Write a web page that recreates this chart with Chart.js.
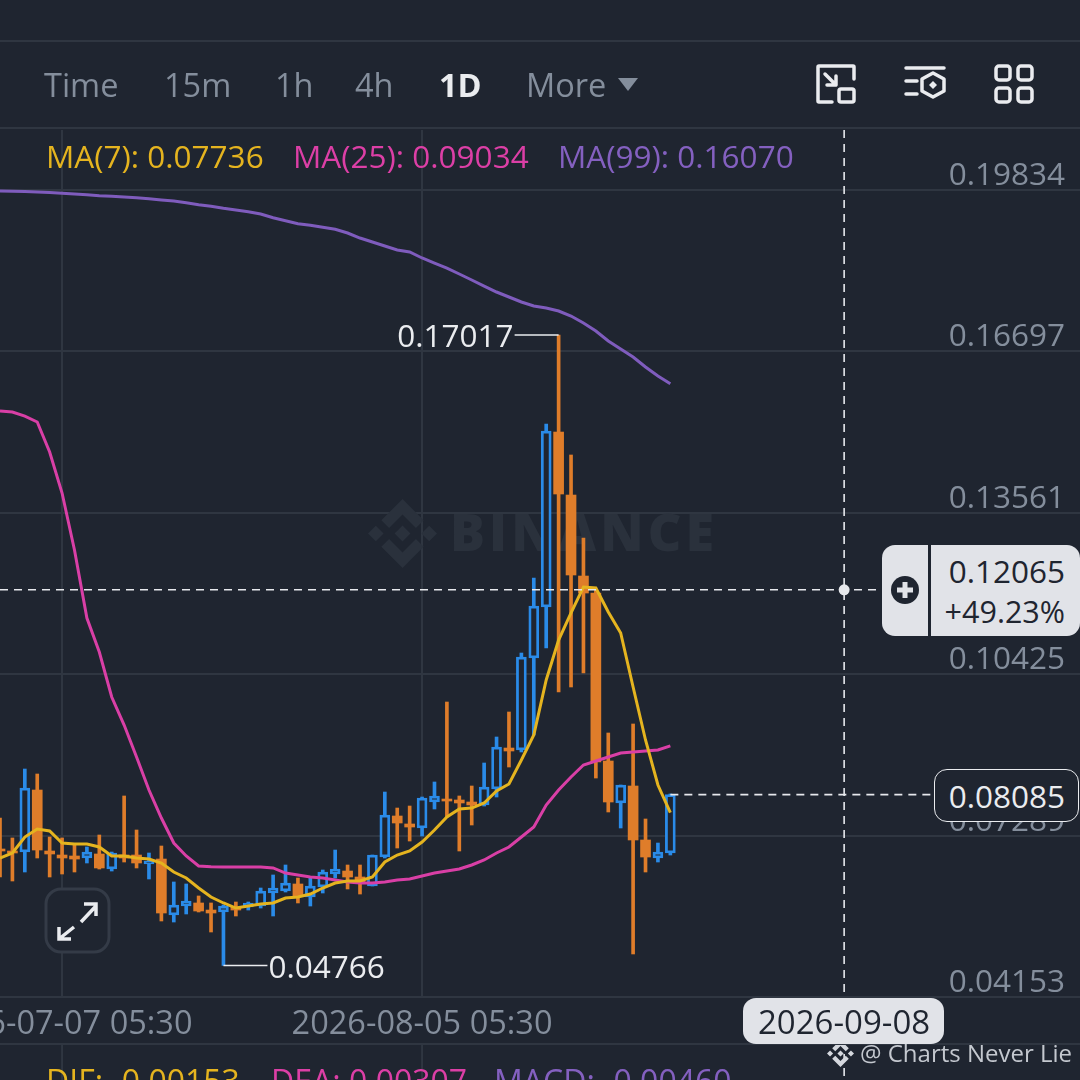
<!DOCTYPE html>
<html>
<head>
<meta charset="utf-8">
<script src="https://cdn.jsdelivr.net/npm/chart.js@4"></script>
<style>
  html, body { margin: 0; padding: 0; width: 1080px; height: 1080px; overflow: hidden; background: #1f2530; }
  body { position: relative; font-family: "Open Sans", sans-serif; }
  canvas { position: absolute; left: 0; top: 0; }
  .t { position: absolute; white-space: nowrap; line-height: 1; font-size: 31.5px; }
  .tool { font-size: 32.5px; top: 69px; color: #848e9c; }
  .line { position: absolute; left: 0; width: 1080px; height: 2px; background: #2f3641; }
  .pill { position: absolute; background: #e1e3e8; border-radius: 13px; }
  svg { position: absolute; overflow: visible; }
</style>
</head>
<body>
<canvas id="kline" width="1080" height="1080"></canvas>

<div class="line" style="top:40px"></div>
<div class="line" style="top:127px"></div>
<div class="line" style="top:1043px"></div>

<span class="t tool" style="left:44px">Time</span>
<span class="t tool" style="left:164px">15m</span>
<span class="t tool" style="left:275px">1h</span>
<span class="t tool" style="left:355px">4h</span>
<span class="t tool" style="left:439px;color:#eaecef;font-weight:700">1D</span>
<span class="t tool" style="left:526px">More</span>
<svg style="left:0;top:0" width="1080" height="130">
  <path d="M618 78h20l-10 13z" fill="#848e9c"/>
  <g fill="none" stroke="#eaecef" stroke-width="3.5" stroke-linecap="round" stroke-linejoin="round">
    <path d="M832 102h-13a1 1 0 0 1-1-1V67a1 1 0 0 1 1-1h34a1 1 0 0 1 1 1v12"/>
    <path d="M825 74l11 11M836 76v9h-9"/>
    <rect x="839" y="89" width="15" height="13" rx="2"/>
    <path d="M906 68h38M906 81h11M906 94h11"/>
    <path d="M933 73l11 6v12l-11 6l-11-6V79z"/>
    <rect x="996" y="66" width="14" height="14" rx="3"/><rect x="1018" y="66" width="14" height="14" rx="3"/>
    <rect x="996" y="88" width="14" height="14" rx="3"/><rect x="1018" y="88" width="14" height="14" rx="3"/>
  </g>
  <path d="M933 81l4 4-4 4-4-4z" fill="#eaecef"/>
</svg>

<span class="t" style="left:46px;top:140px;color:#e5b41f">MA(7): 0.07736</span>
<span class="t" style="left:293px;top:140px;color:#dc3fa6">MA(25): 0.09034</span>
<span class="t" style="left:558px;top:140px;color:#8460c0">MA(99): 0.16070</span>

<svg style="left:0;top:880px" width="120" height="80">
  <rect x="46" y="9" width="63" height="63" rx="15" fill="#1f2530" stroke="#343b47" stroke-width="3"/>
  <g fill="none" stroke="#eaecef" stroke-width="3.5">
    <path d="M81 42l15-16M84 24h12v12M74 47l-15 12M59 47v12h12"/>
  </g>
</svg>

<div class="pill" style="left:882px;top:545px;width:198px;height:91px"></div>
<div style="position:absolute;left:928px;top:545px;width:3px;height:91px;background:#1f2530"></div>
<svg style="left:890px;top:575px" width="30" height="30">
  <circle cx="15" cy="15" r="14" fill="#1f2530"/>
  <path d="M15 7v16M7 15h16" stroke="#e1e3e8" stroke-width="5"/>
</svg>
<span class="t" style="right:15px;top:555px;color:#1f2530">0.12065</span>
<span class="t" style="right:15px;top:596px;font-size:30.5px;color:#1f2530">+49.23%</span>

<div style="position:absolute;left:934px;top:769px;width:143px;height:51px;border:1.5px solid #eaecef;border-radius:13px;background:#1f2530"></div>
<span class="t" style="right:15px;top:780px;color:#eaecef">0.08085</span>

<div class="pill" style="left:743px;top:998px;width:201px;height:46px"></div>
<span class="t" style="left:758px;top:1005px;font-size:33px;color:#1f2530">2026-09-08</span>
<span class="t" style="left:860px;top:1041px;font-size:24px;color:#c4c8cf">@ Charts Never Lie</span>

<span class="t" style="left:46px;top:1065px;font-size:32px;color:#e5b41f">DIF: -0.00153</span>
<span class="t" style="left:271px;top:1065px;font-size:32px;color:#dc3fa6">DEA: 0.00307</span>
<span class="t" style="left:494px;top:1065px;font-size:32px;color:#8460c0">MACD: -0.00460</span>

<script>
const categories = [
  "2026-07-02","2026-07-03","2026-07-04","2026-07-05","2026-07-06","2026-07-07","2026-07-08","2026-07-09","2026-07-10","2026-07-11",
  "2026-07-12","2026-07-13","2026-07-14","2026-07-15","2026-07-16","2026-07-17","2026-07-18","2026-07-19","2026-07-20","2026-07-21",
  "2026-07-22","2026-07-23","2026-07-24","2026-07-25","2026-07-26","2026-07-27","2026-07-28","2026-07-29","2026-07-30","2026-07-31",
  "2026-08-01","2026-08-02","2026-08-03","2026-08-04","2026-08-05","2026-08-06","2026-08-07","2026-08-08","2026-08-09","2026-08-10",
  "2026-08-11","2026-08-12","2026-08-13","2026-08-14","2026-08-15","2026-08-16","2026-08-17","2026-08-18","2026-08-19","2026-08-20",
  "2026-08-21","2026-08-22","2026-08-23","2026-08-24","2026-08-25","2026-08-26","2026-08-27","2026-08-28","2026-08-29","2026-08-30",
  "2026-08-31","2026-09-01","2026-09-02","2026-09-03","2026-09-04","2026-09-05","2026-09-06","2026-09-07","2026-09-08","2026-09-09",
  "2026-09-10","2026-09-11","2026-09-12","2026-09-13","2026-09-14","2026-09-15","2026-09-16","2026-09-17","2026-09-18","2026-09-19",
  "2026-09-20","2026-09-21","2026-09-22","2026-09-23","2026-09-24","2026-09-25","2026-09-26","2026-09-27"
];
const xTickDates = ["2026-07-07", "2026-08-05"];
const priceTicks = [0.19834, 0.16697, 0.13561, 0.10425, 0.07289, 0.04153];

const opens = [
  0.07029,0.06990,0.06970,0.08175,0.06990,0.06912,0.06893,0.06854,0.06932,0.06640,
  0.06912,0.06912,0.06737,0.06834,0.05746,0.05921,0.05980,0.05843,0.05805,0.05902,
  0.05902,0.05921,0.06174,0.06213,0.06349,0.06096,0.06290,0.06543,0.06601,0.06485,
  0.06310,0.06873,0.07670,0.07515,0.07437,0.07942,0.08000,0.07981,0.07942,0.07884,
  0.08195,0.08991,0.08952,0.10740,0.11731,0.15131,0.13907,0.12333,0.12003,0.08739,
  0.07923,0.08253,0.07204,0.06854,0.06951
];
const highs = [
  0.07631,0.07243,0.08583,0.08486,0.07262,0.07243,0.07107,0.07068,0.07301,0.06970,
  0.08059,0.07398,0.06951,0.07087,0.06388,0.06349,0.06116,0.05980,0.05941,0.05999,
  0.05999,0.06271,0.06524,0.06718,0.06465,0.06465,0.06621,0.07009,0.06718,0.06718,
  0.06912,0.08136,0.07825,0.07864,0.08039,0.08331,0.09885,0.08059,0.08253,0.08700,
  0.09205,0.09691,0.10837,0.12295,0.15287,0.17017,0.14685,0.13072,0.12061,0.09283,
  0.08272,0.09458,0.07612,0.07145,0.08098
];
const lows = [
  0.06485,0.06407,0.06582,0.06854,0.06485,0.06543,0.06582,0.06757,0.06640,0.06601,
  0.06776,0.06660,0.06446,0.05630,0.05610,0.05766,0.05805,0.05416,0.04766,0.05727,
  0.05843,0.05882,0.05727,0.06193,0.05980,0.05921,0.06174,0.06465,0.06252,0.06154,
  0.06310,0.06854,0.07048,0.07184,0.07281,0.07806,0.07651,0.06990,0.07495,0.07864,
  0.08039,0.08622,0.08914,0.09244,0.10934,0.10079,0.10177,0.10449,0.08408,0.07748,
  0.07437,0.04989,0.06582,0.06776,0.06912
];
const closes = [
  0.06990,0.06951,0.08214,0.07009,0.06932,0.06854,0.06834,0.06970,0.06660,0.06951,
  0.06854,0.06757,0.06796,0.05785,0.05941,0.06018,0.05824,0.05785,0.05921,0.05843,
  0.05980,0.06213,0.06271,0.06368,0.06116,0.06310,0.06582,0.06640,0.06485,0.06388,
  0.06912,0.07689,0.07534,0.07456,0.08020,0.08059,0.07961,0.07923,0.07884,0.08234,
  0.09011,0.08933,0.10760,0.11751,0.15151,0.13927,0.12353,0.12003,0.08719,0.07942,
  0.08272,0.07204,0.06873,0.06970,0.08085
];
const ma7 = [
  0.06854,0.06951,0.07262,0.07417,0.07379,0.07145,0.07126,0.07126,0.07068,0.06893,
  0.06893,0.06854,0.06834,0.06757,0.06582,0.06465,0.06271,0.06096,0.05980,0.05882,
  0.05921,0.05960,0.05980,0.06077,0.06096,0.06154,0.06271,0.06368,0.06407,0.06407,
  0.06485,0.06776,0.06912,0.06990,0.07165,0.07398,0.07651,0.07806,0.07825,0.07923,
  0.08156,0.08292,0.08758,0.09244,0.10313,0.11090,0.11615,0.12120,0.12100,0.11634,
  0.11226,0.10177,0.09147,0.08272,0.07736
];
const ma25 = [
  0.15540,0.15520,0.15442,0.15326,0.14743,0.13946,0.12839,0.11517,0.10857,0.09982,
  0.09438,0.08816,0.08175,0.07631,0.07145,0.06893,0.06698,0.06683,0.06681,0.06680,
  0.06679,0.06677,0.06660,0.06562,0.06524,0.06485,0.06465,0.06426,0.06388,0.06368,
  0.06368,0.06388,0.06426,0.06446,0.06504,0.06562,0.06601,0.06640,0.06718,0.06815,
  0.06951,0.07068,0.07262,0.07456,0.07884,0.08175,0.08428,0.08661,0.08739,0.08816,
  0.08894,0.08914,0.08933,0.08952,0.09034
];
const ma99 = [
  0.19814,0.19809,0.19805,0.19795,0.19785,0.19770,0.19756,0.19743,0.19723,0.19711,
  0.19698,0.19684,0.19665,0.19640,0.19620,0.19587,0.19548,0.19517,0.19478,0.19445,
  0.19412,0.19367,0.19296,0.19238,0.19180,0.19148,0.19109,0.19070,0.18998,0.18901,
  0.18823,0.18746,0.18668,0.18629,0.18513,0.18415,0.18318,0.18202,0.18085,0.17968,
  0.17852,0.17755,0.17658,0.17580,0.17541,0.17483,0.17386,0.17249,0.17094,0.16900,
  0.16744,0.16589,0.16395,0.16220,0.16070
];

const crossDate = "2026-09-08";
const crossPrice = 0.12065;
const lastPrice = 0.08085;

const FONT = "Open Sans";
const BG = "#1f2530";
const UP = "#2a8be8";
const DOWN = "#df7d2a";
const GRID = "#2f3641";
const logo = new Path2D("M38.73 53.2l24.59-24.58 24.6 24.6 14.3-14.31L63.32 0 24.43 38.9zM0 63.31l14.3-14.31 14.31 14.31-14.31 14.3zM38.73 73.41l24.59 24.59 24.6-24.6 14.31 14.29-38.9 38.91L24.42 87.7l-.02-.02zM98 63.31l14.3-14.31 14.31 14.3-14.31 14.32zM77.83 63.3L63.32 48.78 52.59 59.51l-1.24 1.23-2.54 2.54 14.51 14.5 14.51-14.47z");

const isUp = i => closes[i] >= opens[i];
const wick = up => opens.map((o, i) => isUp(i) === up ? [lows[i], highs[i]] : null);
const body = up => opens.map((o, i) => isUp(i) === up ? [o, closes[i]] : null);
const bar = (data, color, fill, width, border, order) => ({
  type: "bar", data, order, grouped: false, barThickness: width,
  backgroundColor: fill, borderColor: color, borderWidth: border, borderSkipped: false
});
const maLine = (data, color, order) => ({
  type: "line", data, order, borderColor: color, borderWidth: 3,
  pointRadius: 0, tension: 0, fill: false
});

function drawLogo(ctx, x, y, size, color) {
  ctx.save();
  ctx.translate(x, y);
  ctx.scale(size / 126.6, size / 126.6);
  ctx.fillStyle = color;
  ctx.fill(logo);
  ctx.restore();
}

const watermark = {
  id: "watermark",
  beforeDatasetsDraw(chart) {
    const ctx = chart.ctx;
    drawLogo(ctx, 368, 499, 69, "#2a313c");
    ctx.save();
    ctx.fillStyle = "#2a313c";
    ctx.font = "800 52px " + FONT;
    ctx.textBaseline = "middle";
    ctx.letterSpacing = "4px";
    ctx.fillText("BINANCE", 450, 536);
    ctx.restore();
  }
};

const overlay = {
  id: "overlay",
  afterDatasetsDraw(chart) {
    const { ctx, scales: { x, y }, chartArea } = chart;
    // MACD pane keeps the same vertical grid
    ctx.save();
    ctx.strokeStyle = GRID;
    ctx.lineWidth = 2;
    xTickDates.forEach(d => {
      const px = x.getPixelForValue(categories.indexOf(d));
      ctx.beginPath(); ctx.moveTo(px, 1044); ctx.lineTo(px, 1080); ctx.stroke();
    });

    const cx = x.getPixelForValue(categories.indexOf(crossDate));
    const cy = y.getPixelForValue(crossPrice);
    const ly = y.getPixelForValue(lastPrice);
    const lx = x.getPixelForValue(closes.length - 1);
    ctx.strokeStyle = "#e6e8ec";
    ctx.lineWidth = 1.6;
    ctx.setLineDash([8, 6]);
    ctx.beginPath(); ctx.moveTo(0, cy); ctx.lineTo(882, cy); ctx.stroke();
    ctx.beginPath(); ctx.moveTo(cx, chartArea.top); ctx.lineTo(cx, 1080); ctx.stroke();
    ctx.beginPath(); ctx.moveTo(lx, ly); ctx.lineTo(935, ly); ctx.stroke();
    ctx.setLineDash([]);
    ctx.fillStyle = "#e6e8ec";
    ctx.beginPath(); ctx.arc(cx, cy, 5.5, 0, Math.PI * 2); ctx.fill();

    // highest and lowest marks
    const hi = highs.indexOf(Math.max(...highs));
    const lo = lows.indexOf(Math.min(...lows));
    const hx = x.getPixelForValue(hi), hy = y.getPixelForValue(highs[hi]);
    const lox = x.getPixelForValue(lo), loy = y.getPixelForValue(lows[lo]);
    ctx.lineWidth = 1.6;
    ctx.strokeStyle = "#eaecef";
    ctx.beginPath(); ctx.moveTo(hx, hy); ctx.lineTo(hx - 44, hy); ctx.stroke();
    ctx.beginPath(); ctx.moveTo(lox, loy); ctx.lineTo(lox + 44, loy); ctx.stroke();
    ctx.fillStyle = "#eaecef";
    ctx.font = "31.5px " + FONT;
    ctx.textBaseline = "middle";
    ctx.textAlign = "right";
    ctx.fillText(highs[hi].toFixed(5), hx - 45, hy + 3);
    ctx.textAlign = "left";
    ctx.fillText(lows[lo].toFixed(5), lox + 45, loy + 4);
    drawLogo(ctx, 827, 1040, 27, "#d5d8de");
    ctx.restore();
  }
};

new Chart(document.getElementById("kline"), {
  data: {
    labels: categories,
    datasets: [
      bar(wick(true), UP, UP, 3, 0, 8),
      bar(wick(false), DOWN, DOWN, 3, 0, 7),
      bar(body(true), UP, BG, 10, 2.8, 6),
      bar(body(false), DOWN, DOWN, 10, 0, 5),
      maLine(ma99, "#7f5cbd", 3),
      maLine(ma25, "#d93fa6", 2),
      maLine(ma7, "#e5b41f", 1)
    ]
  },
  options: {
    responsive: false,
    animation: false,
    devicePixelRatio: 1,
    layout: { autoPadding: false, padding: { top: 130 } },
    plugins: { legend: { display: false }, tooltip: { enabled: false } },
    scales: {
      x: {
        type: "category",
        offset: false,
        border: { display: false },
        grid: { color: GRID, lineWidth: 2, drawTicks: false, offset: false },
        afterBuildTicks: s => { s.ticks = xTickDates.map(d => ({ value: categories.indexOf(d) })); },
        afterFit: s => { s.height = 83; s.paddingLeft = 0; s.paddingRight = 0; },
        ticks: {
          autoSkip: false, maxRotation: 0, minRotation: 0, padding: 8,
          color: "#848e9c", font: { family: FONT, size: 32.5 },
          callback: v => categories[v] + " 05:30"
        }
      },
      y: {
        type: "linear",
        position: "right",
        min: 0.04153,
        max: 0.21,
        border: { display: false },
        grid: { color: GRID, lineWidth: 2, drawTicks: false },
        afterBuildTicks: s => { s.ticks = priceTicks.map(v => ({ value: v })); },
        afterFit: s => { s.width = 0; },
        ticks: {
          mirror: true, padding: -15, labelOffset: -14,
          color: "#848e9c", font: { family: FONT, size: 31.5 },
          callback: v => v.toFixed(5)
        }
      }
    }
  },
  plugins: [watermark, overlay]
});
</script>
</body>
</html>
